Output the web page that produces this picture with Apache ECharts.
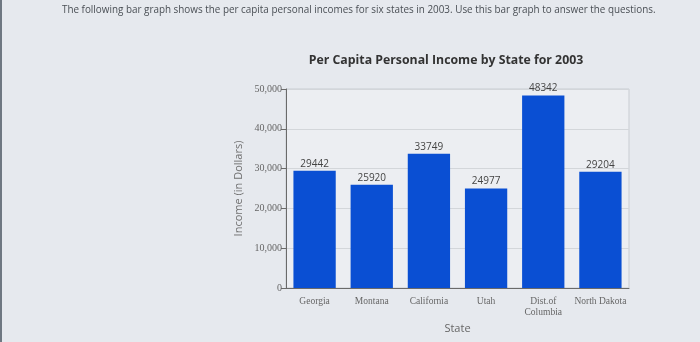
<!DOCTYPE html>
<html>
<head>
<meta charset="utf-8">
<script src="https://cdn.jsdelivr.net/npm/echarts@6/dist/echarts.min.js"></script>
<style>
  html, body { margin: 0; padding: 0; background: #e6e9ee; }
  #chart { width: 700px; height: 342px; }
</style>
</head>
<body>
<div id="chart"></div>
<script>
// Per capita personal income, 2003
const states = ['Georgia', 'Montana', 'California', 'Utah', 'Dist.of\nColumbia', 'North Dakota'];
const incomes = [29442, 25920, 33749, 24977, 48342, 29204];
const yTicks = { min: 0, max: 50000, step: 10000 };

const chart = echarts.init(document.getElementById('chart'));
chart.setOption({
  backgroundColor: '#e6e9ee',
  animation: false,
  title: {
    text: 'Per Capita Personal Income by State for 2003',
    left: 441,
    top: 49,
    textAlign: 'center',
    textStyle: { fontFamily: 'Open Sans', fontWeight: 'bold', fontSize: 12.3, color: '#333' }
  },
  graphic: [
    { type: 'rect', left: 0, top: 0, shape: { width: 2, height: 342 }, style: { fill: '#6f7882' } },
    {
      type: 'text', left: 62, top: 5,
      style: {
        text: 'The following bar graph shows the per capita personal incomes for six states in 2003. Use this bar graph to answer the questions.',
        font: '9.9px "Open Sans"', fill: '#4a4f55'
      }
    }
  ],
  grid: {
    left: 286, right: 71, top: 89, bottom: 54,
    show: true, backgroundColor: '#eceef2', borderColor: '#c9cdd2', borderWidth: 1
  },
  xAxis: {
    type: 'category',
    data: states,
    name: 'State',
    nameLocation: 'middle',
    nameGap: 33,
    nameTextStyle: { fontFamily: 'Open Sans', fontSize: 11, color: '#666' },
    axisLine: { lineStyle: { color: '#6a6a6a' } },
    axisTick: { show: false },
    axisLabel: { fontFamily: 'Liberation Serif', fontSize: 9.5, color: '#666', margin: 8, interval: 0, lineHeight: 11 }
  },
  yAxis: {
    type: 'value',
    min: yTicks.min, max: yTicks.max, interval: yTicks.step,
    name: 'Income (in Dollars)',
    nameLocation: 'middle',
    nameGap: 42,
    nameTextStyle: { fontFamily: 'Open Sans', fontSize: 11, color: '#707070' },
    axisLine: { show: true, lineStyle: { color: '#6a6a6a' } },
    axisTick: { show: true, length: 5, lineStyle: { color: '#6a6a6a' } },
    axisLabel: {
      fontFamily: 'Liberation Serif', fontSize: 10, color: '#666', margin: 4,
      formatter: v => v === 0 ? '0' : v.toLocaleString('en-US')
    },
    splitLine: { lineStyle: { color: '#d3d6da' } }
  },
  series: [{
    type: 'bar',
    data: incomes,
    barCategoryGap: '26%',
    itemStyle: { color: '#0a4fd3' },
    label: {
      show: true, position: 'top', distance: 2,
      fontFamily: 'Open Sans', fontSize: 10, color: '#444'
    }
  }]
});
</script>
</body>
</html>
